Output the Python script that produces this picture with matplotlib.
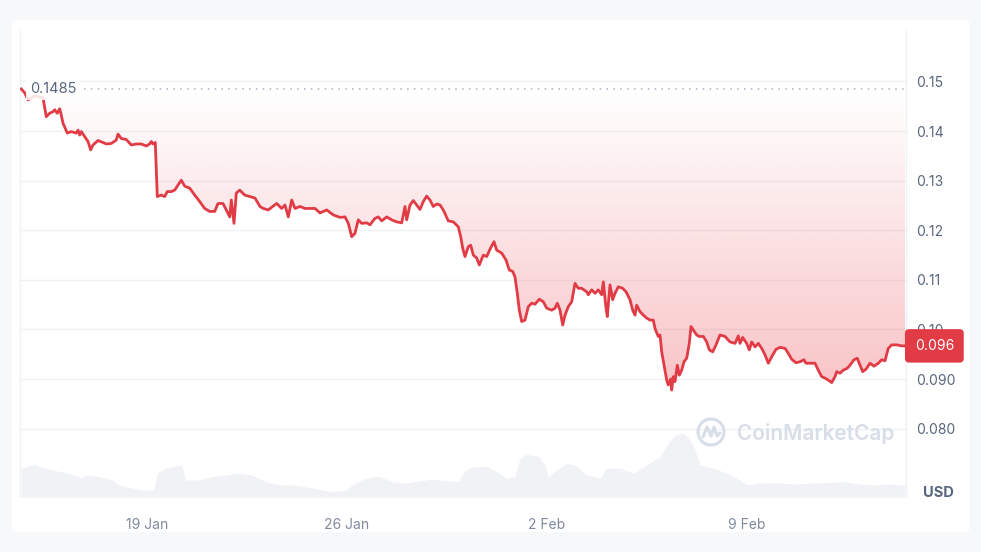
import numpy as np
import matplotlib.pyplot as plt
from matplotlib.patches import FancyBboxPatch, Circle, PathPatch
from matplotlib.path import Path
from matplotlib.transforms import IdentityTransform

plt.rcParams['font.family'] = ['Inter', 'DejaVu Sans']

# price, days since 14 Jan 00:00
days = [0.60, 0.72, 0.835, 1.08, 1.36, 1.475, 1.594, 1.71, 1.769, 1.86, 1.944, 2.0, 2.06, 2.21, 2.35,
        2.525, 2.585, 2.644, 2.70, 2.819, 2.935, 3.029, 3.11, 3.285, 3.46, 3.575, 3.75, 3.925, 3.985,
        4.10, 4.275, 4.45, 4.625, 4.80, 4.975, 5.094, 5.15, 5.21, 5.29, 5.36, 5.50, 5.619, 5.71, 5.85,
        5.969, 6.085, 6.20, 6.319, 6.494, 6.67, 6.845, 7.02, 7.195, 7.37, 7.485, 7.66, 7.776, 7.895,
        7.951, 8.045, 8.126, 8.245, 8.42, 8.605, 8.78, 8.955, 9.071, 9.246, 9.421, 9.54, 9.715, 9.83,
        9.946, 10.065, 10.18, 10.355, 10.53, 10.705, 10.88, 11.055, 11.29, 11.521, 11.755, 11.93,
        12.046, 12.165, 12.28, 12.396, 12.515, 12.69, 12.805, 12.98, 13.096, 13.215, 13.39, 13.565,
        13.74, 13.915, 14.03, 14.09, 14.205, 14.321, 14.44, 14.555, 14.671, 14.79, 14.905, 15.021,
        15.14, 15.255, 15.371, 15.546, 15.721, 15.896, 15.98, 16.05, 16.13, 16.246, 16.33, 16.421,
        16.54, 16.631, 16.771, 16.89, 17.006, 17.145, 17.24, 17.415, 17.566, 17.681, 17.80, 17.88,
        17.961, 18.031, 18.115, 18.231, 18.346, 18.465, 18.581, 18.731, 18.871, 18.99, 19.165,
        19.281, 19.361, 19.456, 19.55, 19.631, 19.746, 19.865, 19.981, 20.096, 20.215, 20.39,
        20.446, 20.565, 20.681, 20.796, 20.915, 20.971, 21.066, 21.111, 21.206, 21.30, 21.381,
        21.496, 21.65, 21.766, 21.906, 22.0, 22.081, 22.14, 22.256, 22.371, 22.49, 22.606, 22.721,
        22.781, 22.896, 22.956, 23.015, 23.106, 23.19, 23.246, 23.33, 23.365, 23.421, 23.481,
        23.561, 23.631, 23.715, 23.796, 23.89, 23.981, 24.041, 24.121, 24.24, 24.331, 24.472,
        24.59, 24.681, 24.80, 24.916, 25.056, 25.231, 25.406, 25.581, 25.696, 25.756, 25.85, 25.99,
        26.082, 26.165, 26.281, 26.396, 26.515, 26.631, 26.746, 26.865, 27.016, 27.156, 27.331,
        27.446, 27.565, 27.716, 27.856, 27.996, 28.066, 28.206, 28.381, 28.496, 28.615, 28.73,
        28.846, 28.966, 29.081, 29.14, 29.256, 29.371, 29.511, 29.606, 29.746, 29.861, 29.956,
        30.05, 30.166, 30.306, 30.446, 30.597, 30.715, 30.831, 30.946, 31.065, 31.24, 31.415, 31.531]
price = [0.1485, 0.1477, 0.1463, 0.1471, 0.1467, 0.1429, 0.1436, 0.1439, 0.1443, 0.1436, 0.1445,
         0.1432, 0.1416, 0.1396, 0.1399, 0.1396, 0.1402, 0.1392, 0.1399, 0.1389, 0.1379, 0.1362,
         0.1372, 0.1381, 0.1377, 0.1374, 0.1375, 0.1382, 0.1394, 0.1385, 0.1383, 0.1372, 0.1374,
         0.1374, 0.1370, 0.1374, 0.1379, 0.1374, 0.1377, 0.1268, 0.1271, 0.1268, 0.1278, 0.1278,
         0.1281, 0.1291, 0.1301, 0.1289, 0.1285, 0.1271, 0.1258, 0.1244, 0.1238, 0.1238, 0.1254,
         0.1254, 0.1241, 0.1227, 0.1261, 0.1214, 0.1275, 0.1281, 0.1271, 0.1268, 0.1265, 0.1248,
         0.1244, 0.1241, 0.1249, 0.1254, 0.1244, 0.1251, 0.1227, 0.1261, 0.1244, 0.1248, 0.1244,
         0.1244, 0.1244, 0.1235, 0.1241, 0.1231, 0.1226, 0.1227, 0.1214, 0.1187, 0.1194, 0.1221,
         0.1214, 0.1215, 0.1211, 0.1224, 0.1227, 0.1219, 0.1227, 0.1221, 0.1217, 0.1215, 0.1248,
         0.1221, 0.1251, 0.1260, 0.1251, 0.1242, 0.1258, 0.1269, 0.1261, 0.1248, 0.1253, 0.1251,
         0.1241, 0.1219, 0.1217, 0.1207, 0.1187, 0.1164, 0.1147, 0.1167, 0.1170, 0.1150, 0.1144,
         0.1130, 0.1150, 0.1147, 0.1162, 0.1177, 0.1160, 0.1154, 0.1140, 0.1120, 0.1117, 0.1106,
         0.1073, 0.1039, 0.1016, 0.1019, 0.1046, 0.1053, 0.1051, 0.1061, 0.1056, 0.1043, 0.1039,
         0.1043, 0.1053, 0.1039, 0.1009, 0.1029, 0.1046, 0.1056, 0.1093, 0.1083, 0.1083, 0.1076,
         0.1070, 0.1080, 0.1073, 0.1080, 0.1070, 0.1096, 0.1043, 0.1026, 0.1090, 0.1060, 0.1073,
         0.1086, 0.1083, 0.1076, 0.1060, 0.1039, 0.1029, 0.1049, 0.1036, 0.1029, 0.1023, 0.1019,
         0.1019, 0.1002, 0.0986, 0.0989, 0.0955, 0.0925, 0.0898, 0.0888, 0.0900, 0.0878, 0.0905,
         0.0895, 0.0928, 0.0908, 0.0918, 0.0935, 0.0942, 0.0972, 0.1006, 0.0999, 0.0989, 0.0986,
         0.0986, 0.0975, 0.0959, 0.0955, 0.0969, 0.0989, 0.0986, 0.0975, 0.0972, 0.0987, 0.0972,
         0.0984, 0.0972, 0.0959, 0.0975, 0.0965, 0.0972, 0.0962, 0.0949, 0.0932, 0.0945, 0.0960,
         0.0964, 0.0962, 0.0952, 0.0940, 0.0933, 0.0935, 0.0939, 0.0932, 0.0932, 0.0932, 0.0918,
         0.0905, 0.0902, 0.0898, 0.0893, 0.0905, 0.0915, 0.0912, 0.0918, 0.0922, 0.0928, 0.0939,
         0.0942, 0.0928, 0.0915, 0.0920, 0.0932, 0.0926, 0.0932, 0.0939, 0.0937, 0.0962, 0.0969,
         0.0969, 0.0967, 0.0967]

# volume (millions USD)
vol_days = [0.60, 1.09, 1.209, 1.675, 2.259, 2.725, 2.84, 3.309, 3.775, 4.009, 4.475, 4.94, 5.235,
            5.35, 5.641, 6.225, 6.341, 6.81, 7.275, 7.741, 8.21, 8.675, 9.141, 9.61, 10.075, 10.541,
            11.125, 11.475, 11.941, 12.175, 12.641, 13.11, 13.575, 14.041, 14.51, 14.975, 15.441,
            15.91, 16.085, 16.421, 16.89, 17.24, 17.59, 17.881, 18.056, 18.29, 18.696, 18.931,
            19.046, 19.34, 19.69, 19.981, 20.39, 20.856, 21.09, 21.556, 22.021, 22.49, 22.956,
            23.246, 23.481, 23.771, 24.006, 24.181, 24.356, 24.821, 25.29, 25.756, 25.99, 26.456,
            27.04, 27.621, 28.206, 28.79, 29.371, 29.956, 30.421, 31.001, 31.531]
volume = [14.4, 16.4, 15.2, 13.5, 11.9, 9.4, 11.0, 10.2, 8.5, 6.0, 4.4, 3.5, 3.5, 11.9, 14.4, 16.0,
          8.5, 8.5, 10.2, 11.0, 11.9, 11.0, 7.7, 6.0, 6.0, 5.2, 3.5, 2.7, 3.2, 6.0, 9.4, 10.5, 7.7,
          6.9, 8.0, 8.9, 8.2, 7.7, 12.7, 15.2, 15.2, 12.7, 9.4, 10.2, 19.4, 21.4, 20.2, 16.0, 10.2,
          13.5, 16.9, 16.0, 11.0, 9.4, 14.4, 14.4, 11.9, 16.0, 20.2, 26.9, 31.0, 31.9, 28.5, 23.5,
          16.0, 14.4, 11.9, 8.5, 6.0, 6.9, 7.2, 6.5, 6.9, 7.2, 7.7, 6.5, 6.0, 6.5, 6.0]

y_ticks = [0.08, 0.09, 0.10, 0.11, 0.12, 0.13, 0.14, 0.15]
y_labels = ['0.080', '0.090', '0.10', '0.11', '0.12', '0.13', '0.14', '0.15']
x_ticks = [5, 12, 19, 26]
x_labels = ['19 Jan', '26 Jan', '2 Feb', '9 Feb']
open_price = 0.1485
last_label = '0.096'

red = '#e13b45'
grey_txt = '#58667e'

fig = plt.figure(figsize=(9.81, 5.52), dpi=100)
fig.patch.set_facecolor('#f7f8fa')
card = FancyBboxPatch((12 / 981, 20 / 552), 958 / 981, 512 / 552,
                      boxstyle='round,pad=0,rounding_size=0.008', transform=fig.transFigure,
                      facecolor='white', edgecolor='none', zorder=-10)
fig.patches.append(card)

pos = [20 / 981, 55 / 552, 886 / 981, 467 / 552]
axv = fig.add_axes(pos, zorder=1)
axv.set_facecolor('none')
axv.fill_between(vol_days, 0, volume, color='#f0f2f6', lw=0)
axv.set_xlim(0.555, 31.566)
axv.set_ylim(0, 233.5)
axv.axis('off')

ax = fig.add_axes(pos, zorder=2)
ax.set_facecolor('none')
ax.set_xlim(0.555, 31.566)
ax.set_ylim(0.06623, 0.16038)

for t in y_ticks:
    ax.axhline(t, color='#eff2f5', lw=1, zorder=0)

# gradient fill between line and open price
fill = ax.fill_between(days, price, open_price, color='none', lw=0)
grad = np.zeros((256, 2, 4))
grad[:, :, 0] = 234 / 255
grad[:, :, 1] = 57 / 255
grad[:, :, 2] = 67 / 255
grad[:, :, 3] = np.linspace(0.30, 0.0, 256)[:, None]
img = ax.imshow(grad, extent=[0.555, 31.566, 0.0878, open_price], origin='lower',
                aspect='auto', zorder=1, interpolation='bilinear')
img.set_clip_path(fill.get_paths()[0], transform=ax.transData)

ax.plot(days, price, color=red, lw=2.0, zorder=3, solid_joinstyle='round')
ax.plot([2.8, 31.566], [open_price, open_price], color='#a7b1c2', lw=1.1,
        linestyle=(0, (1, 3.5)), zorder=2)
ax.text(0.9, open_price, f'{open_price:.4f}', color=grey_txt, fontsize=10.5, va='center',
        ha='left', zorder=4,
        bbox=dict(boxstyle='square,pad=0.25', facecolor='white', edgecolor='none', alpha=0.85))

ax.set_yticks(y_ticks)
ax.set_yticklabels(y_labels)
ax.yaxis.tick_right()
ax.set_xticks(x_ticks)
ax.set_xticklabels(x_labels)
ax.tick_params(axis='y', length=0, pad=7, labelsize=10, labelcolor=grey_txt)
ax.tick_params(axis='x', length=0, pad=15, labelsize=10, labelcolor='#808a9d')
for s in ['top', 'bottom']:
    ax.spines[s].set_visible(False)
for s in ['left', 'right']:
    ax.spines[s].set_color('#eff2f5')
    ax.spines[s].set_linewidth(1)

ax.text(1.032, price[-1], last_label, transform=ax.get_yaxis_transform(), color='white',
        fontsize=10, ha='center', va='center', zorder=6, clip_on=False,
        bbox=dict(boxstyle='round,pad=0.7,rounding_size=0.3', facecolor=red, edgecolor='none'))

fig.text(938 / 981, 1 - 493 / 552, 'USD', color=grey_txt, fontsize=10.5, fontweight='bold',
         ha='center', va='center')

# watermark (pixel coordinates, origin bottom-left)
wm = '#d8dee8'
fig.text(737 / 981, 1 - 433 / 552, 'CoinMarketCap', color=wm, fontsize=15,
         fontweight='semibold', ha='left', va='center', zorder=5)
fig.patches.append(Circle((711, 552 - 432), 13, transform=IdentityTransform(),
                          fill=False, edgecolor=wm, lw=2.2, zorder=5))
mx = np.array([703, 707, 711, 714, 717, 720])
my = 552 - np.array([437, 427, 436, 427, 436, 433])
fig.patches.append(PathPatch(Path(np.column_stack([mx, my])), transform=IdentityTransform(),
                             fill=False, edgecolor=wm, lw=2.2, capstyle='round',
                             joinstyle='round', zorder=5))

fig.savefig('out.png', dpi=100, facecolor=fig.get_facecolor())
